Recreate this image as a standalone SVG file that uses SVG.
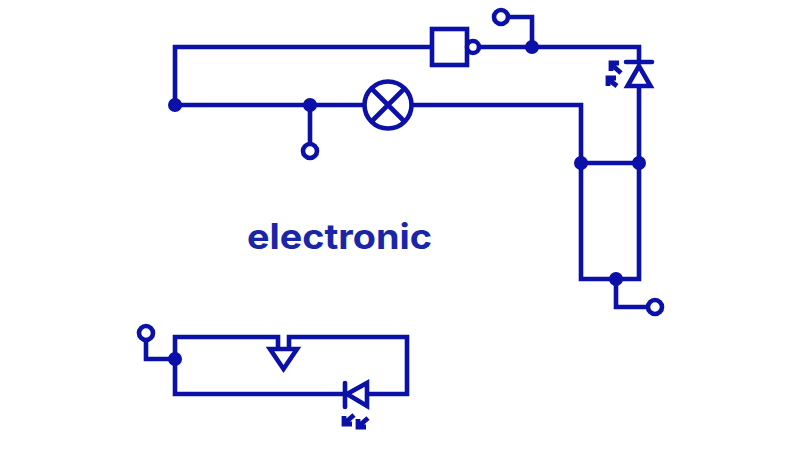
<svg xmlns="http://www.w3.org/2000/svg" width="800" height="450" viewBox="0 0 800 450">
<defs>
<style>
.w{fill:none;stroke:#0a10a8;stroke-width:4.6;stroke-linejoin:miter;stroke-linecap:square}
.s{fill:#fff;stroke:#0a10a8;stroke-width:4.6}
.d{fill:#0a10a8;stroke:none}
.a{fill:none;stroke:#0a10a8;stroke-width:4.8;stroke-linecap:butt;stroke-linejoin:miter}
.t{font-family:Inter,"Liberation Sans",sans-serif;font-weight:700;font-size:35px;fill:#1a26a8}
</style>
</defs>
<rect width="800" height="450" fill="#fff"/>
<g id="connectors">
<path class="w" d="M430 47H175V105H362"/>
<path class="w" d="M414 105H581V279H639V87"/>
<path class="w" d="M480 47H639V62"/>
<path class="w" d="M581 163H639"/>
<path class="w" d="M532 47V17H508"/>
<path class="w" d="M310 105V143"/>
<path class="w" d="M616 279V307H647"/>
<path class="w" d="M146 341V359H175"/>
<path class="w" d="M278 348V337H175V394H345"/>
<path class="w" d="M289 348V337H407V394H367"/>
</g>
<g id="gate"><rect class="s" x="432" y="29" width="35" height="36"/><circle class="s" cx="473" cy="47" r="6"/></g>
<g id="lamp"><circle class="s" cx="388" cy="105" r="23.500"/><path class="w" style="stroke-linecap:butt" d="M371.500 88.500L404.500 121.500M404.500 88.500L371.500 121.500"/></g>
<g id="photodiode-top">
<path class="w" style="fill:#fff;stroke-linecap:butt" d="M639 66L627.500 86H650.500Z"/>
<path class="w" style="stroke-linecap:round" d="M626 62H652"/>
<path class="a" d="M621 73L612 65M611 71V63H619"/>
<path class="a" d="M617 86L609 80M608 86V78H616"/>
</g>
<g id="terminal-top"><circle class="s" cx="501" cy="17" r="7"/></g>
<g id="terminal-lamp"><circle class="s" cx="310" cy="151" r="7"/></g>
<g id="terminal-right"><circle class="s" cx="655" cy="307" r="7"/></g>
<g id="terminal-bottom"><circle class="s" cx="146" cy="333" r="7"/></g>
<g id="junctions">
<circle class="d" cx="532" cy="47" r="7"/>
<circle class="d" cx="175" cy="105" r="7"/>
<circle class="d" cx="310" cy="105" r="7"/>
<circle class="d" cx="581" cy="163" r="7"/>
<circle class="d" cx="639" cy="163" r="7"/>
<circle class="d" cx="616" cy="279" r="7"/>
<circle class="d" cx="175" cy="359" r="7"/>
</g>
<g id="triangle"><path class="w" style="fill:#fff;stroke-linecap:butt" d="M270 349H297L283.500 369Z"/></g>
<g id="led-bottom">
<path class="w" style="fill:#fff;stroke-linecap:butt" d="M347 394L367 383V406Z"/>
<path class="w" style="stroke-linecap:round" d="M345 383V407"/>
<path class="a" d="M354 415L346 422M344 416V424H352"/>
<path class="a" d="M368 418L360 425M358 419V427H366"/>
</g>
<g id="label"><text class="t" x="247" y="249" textLength="185" lengthAdjust="spacingAndGlyphs">electronic</text></g>
</svg>
